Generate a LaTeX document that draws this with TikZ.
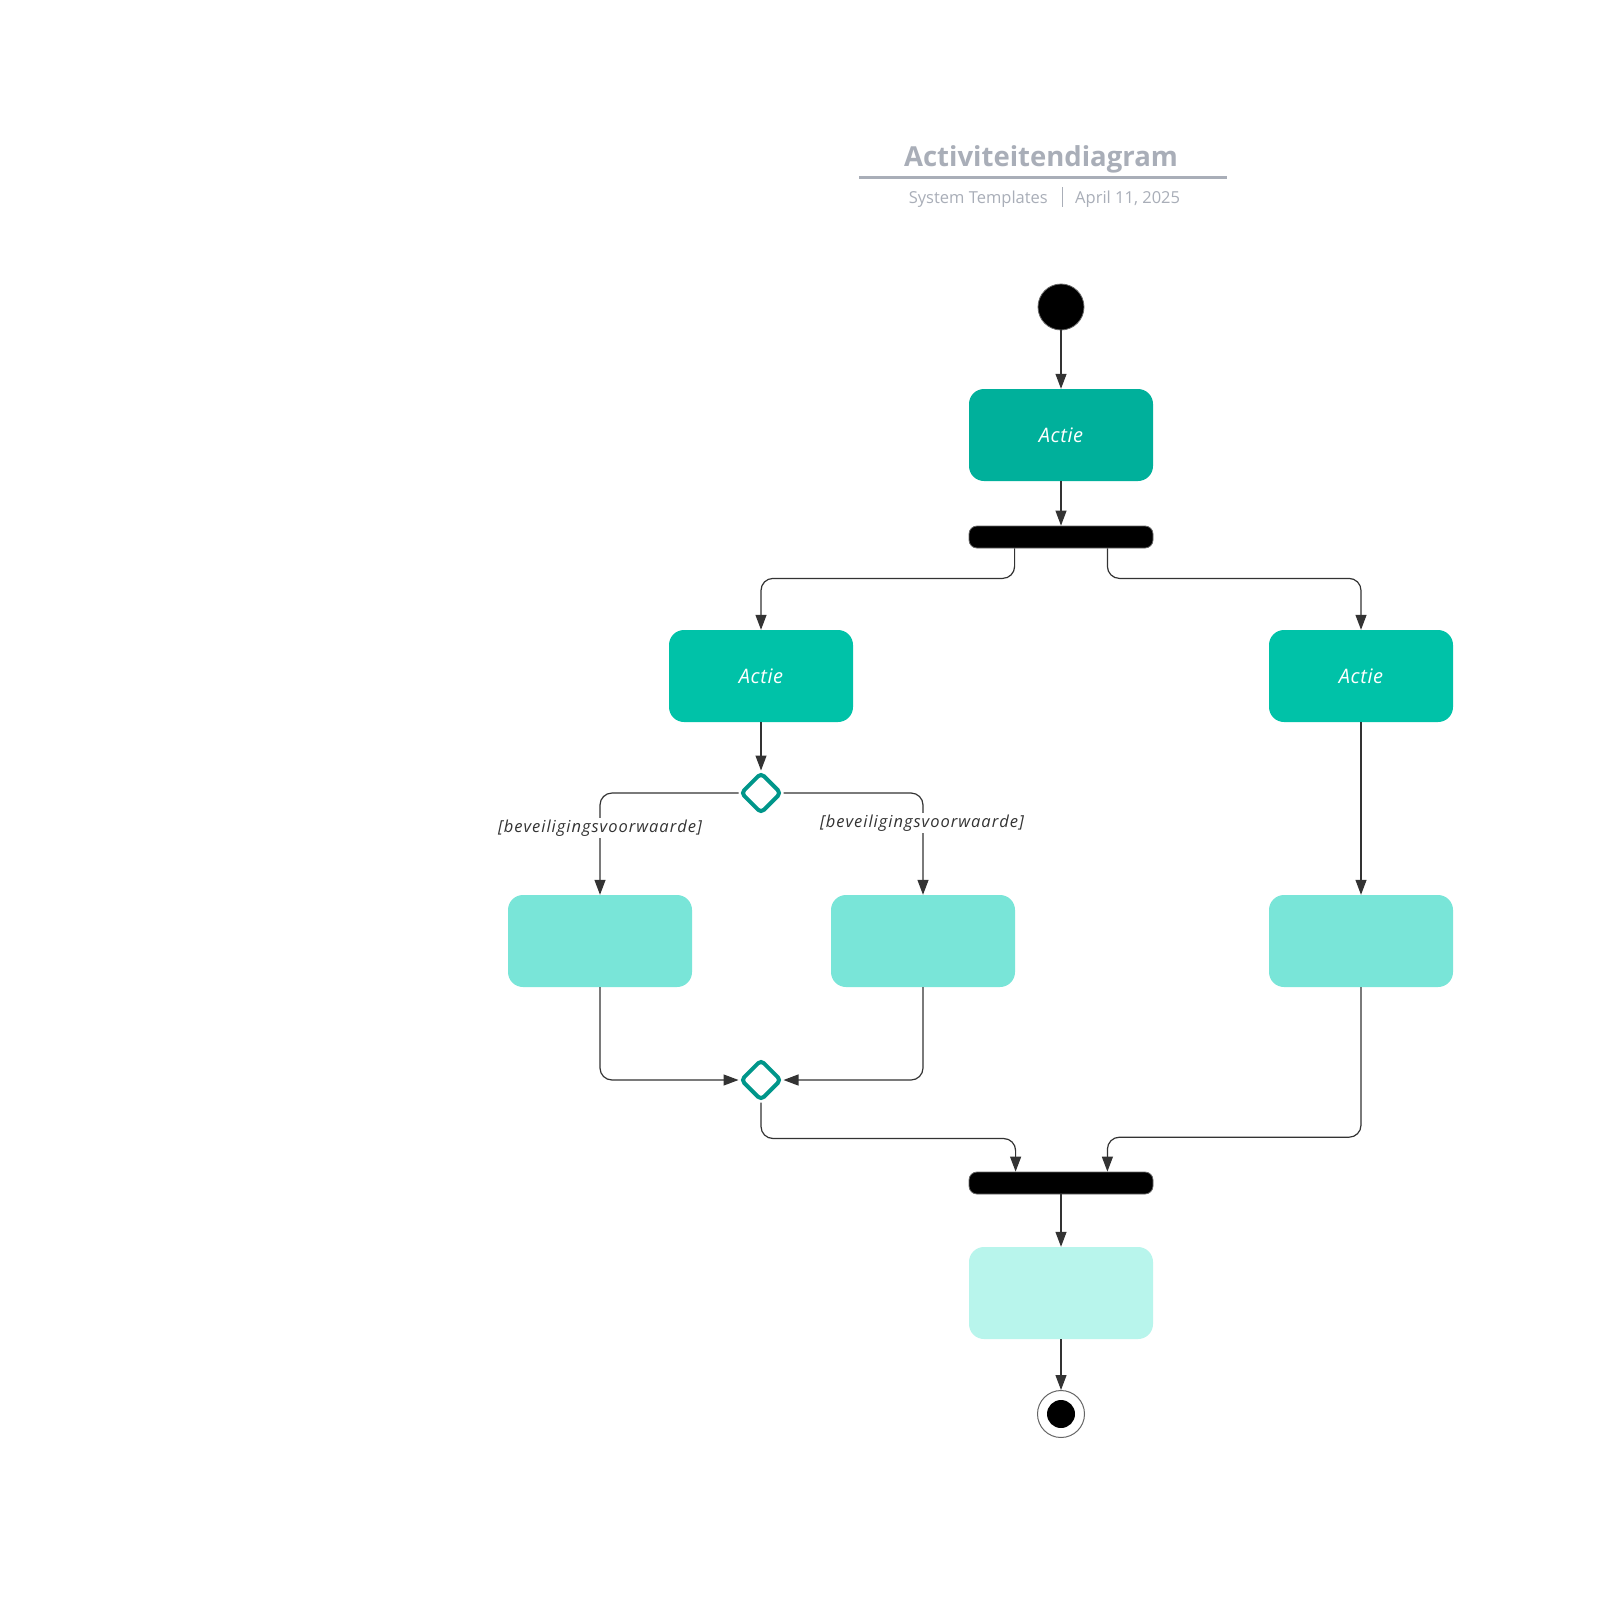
\documentclass[tikz,border=0pt]{standalone}
\usepackage{fontspec}
\setmainfont{Open Sans}
\usetikzlibrary{shapes.geometric,arrows.meta}
\definecolor{titlegray}{HTML}{A9AEB8}
\definecolor{linegray}{HTML}{333333}
\definecolor{tealdark}{HTML}{00B09B}
\definecolor{tealmid}{HTML}{00C2A8}
\definecolor{teallight}{HTML}{79E5D8}
\definecolor{tealpale}{HTML}{B8F5EC}
\definecolor{diamondteal}{HTML}{00968A}
\definecolor{edgegray}{HTML}{666666}
\tikzset{
  actbox/.style={rectangle, rounded corners=15pt, minimum width=184pt, minimum height=92pt, inner sep=0pt, draw=none,
    text=white, font=\fontsize{20}{24}\selectfont\itshape\addfontfeature{LetterSpace=3}},
  barnode/.style={rectangle, rounded corners=8pt, minimum width=184pt, minimum height=22pt, inner sep=0pt, fill=black, draw=edgegray, line width=0.8pt},
  decnode/.style={diamond, aspect=1, minimum width=41pt, minimum height=41pt, inner sep=0pt, draw=diamondteal, line width=4pt, rounded corners=4pt, fill=white},
  conn/.style={draw=linegray, line width=1.2pt, rounded corners=12pt, -{Triangle[length=15pt,width=11pt]}},
  guard/.style={fill=white, inner sep=2pt, text=linegray, font=\fontsize{16.5}{19}\selectfont\itshape\addfontfeature{LetterSpace=6}},
}
\begin{document}
\begin{tikzpicture}[x=1pt,y=-1pt]
\path[fill=white] (0,0) rectangle (1600,1600);
\useasboundingbox (0,0) rectangle (1600,1600);

% title
\node[text=titlegray, font=\fontsize{27.5}{34}\selectfont\bfseries, anchor=base] (title) at (1041,166) {Activiteitendiagram};
\draw[titlegray, line width=3pt] (859,177) -- (1227,177);
\node[text=titlegray, font=\fontsize{16.5}{20}\selectfont, anchor=base east, inner sep=0pt] (sub1) at (1048,203) {System Templates};
\node[text=titlegray, font=\fontsize{16.5}{20}\selectfont, anchor=base west, inner sep=0pt] (sub2) at (1075,203) {April 11, 2025};
\draw[titlegray, line width=1pt] (1062,187) -- (1062,207);

% nodes
\node[circle, minimum size=46pt, inner sep=0pt, fill=black, draw=edgegray, line width=0.8pt] (start) at (1061,307) {};
\node[actbox, fill=tealdark] (a1) at (1061,435) {\raisebox{-2pt}{Actie}};
\node[barnode] (fork) at (1061,537) {};
\node[actbox, fill=tealmid] (a2) at (761,676) {\raisebox{-2pt}{Actie}};
\node[actbox, fill=tealmid] (a3) at (1361,676) {\raisebox{-2pt}{Actie}};
\node[decnode] (dec) at (761,793) {};
\node[actbox, fill=teallight] (b1) at (600,941) {};
\node[actbox, fill=teallight] (b2) at (923,941) {};
\node[actbox, fill=teallight] (b3) at (1361,941) {};
\node[decnode] (mrg) at (761,1080) {};
\node[barnode] (join) at (1061,1183) {};
\node[actbox, fill=tealpale] (fin) at (1061,1293) {};
\node[circle, minimum size=47pt, inner sep=0pt, draw=edgegray, line width=1pt, fill=white] (endo) at (1061,1414) {};
\node[circle, minimum size=28pt, inner sep=0pt, fill=black] (endi) at (endo.center) {};

% connectors
\draw[conn] (start.south) -- (a1.north);
\draw[conn] (a1.south) -- (fork.north);
\draw[conn] ([xshift=46pt]fork.south west) -- ++(0,30) -| (a2.north);
\draw[conn] ([xshift=-46pt]fork.south east) -- ++(0,30) -| (a3.north);
\draw[conn] (a2.south) -- (dec.north);
\draw[conn] (a3.south) -- (b3.north);
\draw[conn] (dec.west) -| (b1.north);
\draw[conn] (dec.east) -| (b2.north);
\draw[conn] (b1.south) |- (mrg.west);
\draw[conn] (b2.south) |- (mrg.east);
\draw[conn] (mrg.south) -- ++(0,36) -| ([xshift=47pt]join.north west);
\draw[conn] (b3.south) -- ++(0,150) -| ([xshift=-46pt]join.north east);
\draw[conn] (join.south) -- (fin.north);
\draw[conn] (fin.south) -- (endo.north);

% guards
\node[guard] (g1) at (600,828) {[beveiligingsvoorwaarde]};
\node[guard] (g2) at (922,823) {[beveiligingsvoorwaarde]};
\end{tikzpicture}
\end{document}
